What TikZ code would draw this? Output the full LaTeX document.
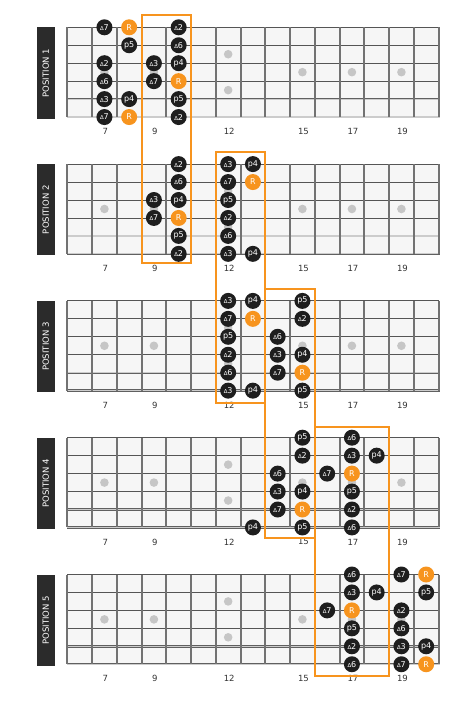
\documentclass[tikz,border=0pt]{standalone}
\usepackage{fontspec}
\setmainfont{DejaVu Sans}
\definecolor{notebk}{HTML}{1E1E1E}
\definecolor{orng}{HTML}{F7941E}
\definecolor{labbg}{HTML}{2B2B2B}
\definecolor{fretgray}{HTML}{727272}
\definecolor{strgray}{HTML}{555555}
\definecolor{dotgray}{HTML}{C6C6C6}
\definecolor{boardbg}{HTML}{F6F6F6}
\definecolor{fretc}{HTML}{333333}
\newcommand\dd[1]{{\fontsize{5.5}{6}\selectfont ∆}#1}
\newcommand\placenotes[3]{\foreach \s/\f/\t in {#2}{\node[#3] (n#1-\s-\f) at ({67.3+(\f-5.5)*24.75},{27.3+(#1-1)*136.8+(\s-1)*17.95}) {\t};}}
\begin{document}
\begin{tikzpicture}[x=1pt,y=-1pt,
  note/.style={circle,fill=notebk,text=white,inner sep=0pt,minimum size=16pt,font=\fontsize{8}{8}\selectfont},
  rootnote/.style={note,fill=orng},
  fretnum/.style={text=fretc,font=\fontsize{8.5}{9}\selectfont,inner sep=0pt},
  poslabel/.style={fill=labbg,text=white,minimum width=91.3pt,minimum height=18.3pt,inner sep=0pt,rotate=90,font=\fontsize{8.5}{9}\selectfont},
  fretline/.style={draw=fretgray,line width=2pt},
  thinstring/.style={draw=strgray,line width=0.9pt},
  thickstring/.style={draw=gray!75!black,double=gray!40,double distance=1.2pt,line width=0.6pt},
  inlay/.style={fill=dotgray},
  posbox/.style={draw=orng,line width=2pt}
]
\useasboundingbox[fill=white] (0,0) rectangle (474,705);
\foreach \p in {1,...,5}{
  \pgfmathsetmacro\yt{27.3+(\p-1)*136.8}
  \pgfmathsetmacro\yb{\yt+89.75}
  \fill[boardbg] (67.3,\yt) rectangle (438.55,\yb);
  \foreach \s in {1,...,4}{
    \draw[thinstring] (67.3,{\yt+(\s-1)*17.95}) -- (438.55,{\yt+(\s-1)*17.95});
  }
  \foreach \s in {5,6}{
    \draw[thickstring] (67.3,{\yt+(\s-1)*17.95}) -- (439.5,{\yt+(\s-1)*17.95});
  }
  \foreach \i in {0,...,15}{
    \draw[fretline] ({67.3+\i*24.75},\yt) -- ({67.3+\i*24.75},\yb);
  }
  \foreach \f in {7,9,15,17,19}{
    \fill[inlay] ({67.3+(\f-5.5)*24.75},{\yt+2.5*17.95}) circle (4.3);
  }
  \fill[inlay] ({67.3+6.5*24.75},{\yt+1.5*17.95}) circle (4.3);
  \fill[inlay] ({67.3+6.5*24.75},{\yt+3.5*17.95}) circle (4.3);
  \foreach \f in {7,9,12,15,17,19}{
    \node[fretnum] (fn\p-\f) at ({67.3+(\f-5.5)*24.75+1},{\yb+14.5}) {\f};
  }
  \node[poslabel] (lab\p) at (45.85,{\yt+45.65}) {POSITION \p};
}
% position 1
\placenotes{1}{1/7/\dd7,1/10/\dd2,2/8/p5,2/10/\dd6,3/7/\dd2,3/9/\dd3,3/10/p4,4/7/\dd6,4/9/\dd7,5/7/\dd3,5/8/p4,5/10/p5,6/7/\dd7,6/10/\dd2}{note}
\placenotes{1}{1/8/R,4/10/R,6/8/R}{rootnote}
% position 2
\placenotes{2}{1/10/\dd2,1/12/\dd3,1/13/p4,2/10/\dd6,2/12/\dd7,3/9/\dd3,3/10/p4,3/12/p5,4/9/\dd7,4/12/\dd2,5/10/p5,5/12/\dd6,6/10/\dd2,6/12/\dd3,6/13/p4}{note}
\placenotes{2}{2/13/R,4/10/R}{rootnote}
% position 3
\placenotes{3}{1/12/\dd3,1/13/p4,1/15/p5,2/12/\dd7,2/15/\dd2,3/12/p5,3/14/\dd6,4/12/\dd2,4/14/\dd3,4/15/p4,5/12/\dd6,5/14/\dd7,6/12/\dd3,6/13/p4,6/15/p5}{note}
\placenotes{3}{2/13/R,5/15/R}{rootnote}
% position 4
\placenotes{4}{1/15/p5,1/17/\dd6,2/15/\dd2,2/17/\dd3,2/18/p4,3/14/\dd6,3/16/\dd7,4/14/\dd3,4/15/p4,4/17/p5,5/14/\dd7,5/17/\dd2,6/13/p4,6/15/p5,6/17/\dd6}{note}
\placenotes{4}{3/17/R,5/15/R}{rootnote}
% position 5
\placenotes{5}{1/17/\dd6,1/19/\dd7,2/17/\dd3,2/18/p4,2/20/p5,3/16/\dd7,3/19/\dd2,4/17/p5,4/19/\dd6,5/17/\dd2,5/19/\dd3,5/20/p4,6/17/\dd6,6/19/\dd7}{note}
\placenotes{5}{1/20/R,3/17/R,6/20/R}{rootnote}
% overlap boxes
\draw[posbox] (141.55,15.0) rectangle (191.05,263.3);
\draw[posbox] (215.8,152.0) rectangle (265.3,402.7);
\draw[posbox] (265.3,288.8) rectangle (314.8,538.0);
\draw[posbox] (314.8,426.6) rectangle (389.05,675.7);
\end{tikzpicture}
\end{document}
